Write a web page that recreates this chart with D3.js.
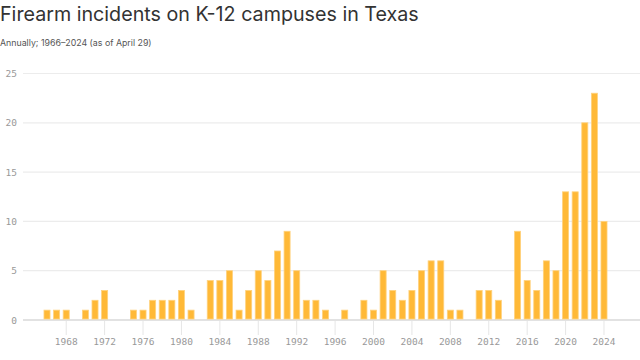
<!DOCTYPE html>
<html><head><meta charset="utf-8">
<script src="https://cdn.jsdelivr.net/npm/d3@7"></script>
<style>body{margin:0;background:#fff}svg{display:block}</style>
</head><body><svg id="c" width="640" height="360"></svg>
<script>
const years = d3.range(1966, 2025);
const incidents = [1,1,1,0,1,2,3,0,0,1,1,2,2,2,3,1,0,4,4,5,1,3,5,4,7,9,5,2,2,1,0,1,0,2,1,5,3,2,3,5,6,6,1,1,0,3,3,2,0,9,4,3,6,5,13,13,20,23,10];
const yTicks = [0,5,10,15,20,25];
const xTicks = [1968,1972,1976,1980,1984,1988,1992,1996,2000,2004,2008,2012,2016,2020,2024];
const title = "Firearm incidents on K-12 campuses in Texas";
const subtitle = "Annually; 1966–2024 (as of April 29)";

const svg = d3.select("#c");
const x = d3.scaleBand().domain(years).range([42.2, 608.8]).paddingInner(0.37).paddingOuter(0.185);
const y = d3.scaleLinear().domain([0,25]).range([320, 73.5]);

svg.append("text").attr("x",0).attr("y",21).attr("font-family","Inter, sans-serif")
  .attr("font-size",19.7).attr("fill","#333").text(title);
svg.append("text").attr("x",0).attr("y",46).attr("font-family","Inter, sans-serif")
  .attr("font-size",8.8).attr("fill","#555").text(subtitle);

// grid
const g = svg.append("g");
g.selectAll("line.grid").data(yTicks).join("line")
  .attr("x1",23).attr("x2",640).attr("y1",d=>y(d)).attr("y2",d=>y(d))
  .attr("stroke",d=>d===0?"#e2e2e2":"#ececec").attr("stroke-width",d=>d===0?2:1.2);
g.selectAll("text.yl").data(yTicks).join("text")
  .attr("x",17).attr("y",d=>y(d)+3.5).attr("text-anchor","end")
  .attr("font-family","DejaVu Sans Mono, monospace").attr("font-size",9.5).attr("fill","#999").text(d=>d);

// x ticks
g.selectAll("line.xt").data(xTicks).join("line")
  .attr("x1",d=>x(d)+x.bandwidth()/2).attr("x2",d=>x(d)+x.bandwidth()/2)
  .attr("y1",321).attr("y2",335).attr("stroke","#e6e6e6").attr("stroke-width",1);
g.selectAll("text.xl").data(xTicks).join("text")
  .attr("x",d=>x(d)+x.bandwidth()/2).attr("y",345).attr("text-anchor","middle")
  .attr("font-family","DejaVu Sans Mono, monospace").attr("font-size",9.5).attr("fill","#999").text(d=>d);

// bars
svg.append("g").selectAll("rect").data(years.map((yr,i)=>({yr,v:incidents[i]})).filter(d=>d.v>0)).join("rect")
  .attr("x",d=>x(d.yr)).attr("width",x.bandwidth())
  .attr("y",d=>y(d.v)).attr("height",d=>y(0)-y(d.v)-1)
  .attr("fill","#ffb937").attr("stroke","#ffd27e").attr("stroke-width",0.8);
</script></body></html>
